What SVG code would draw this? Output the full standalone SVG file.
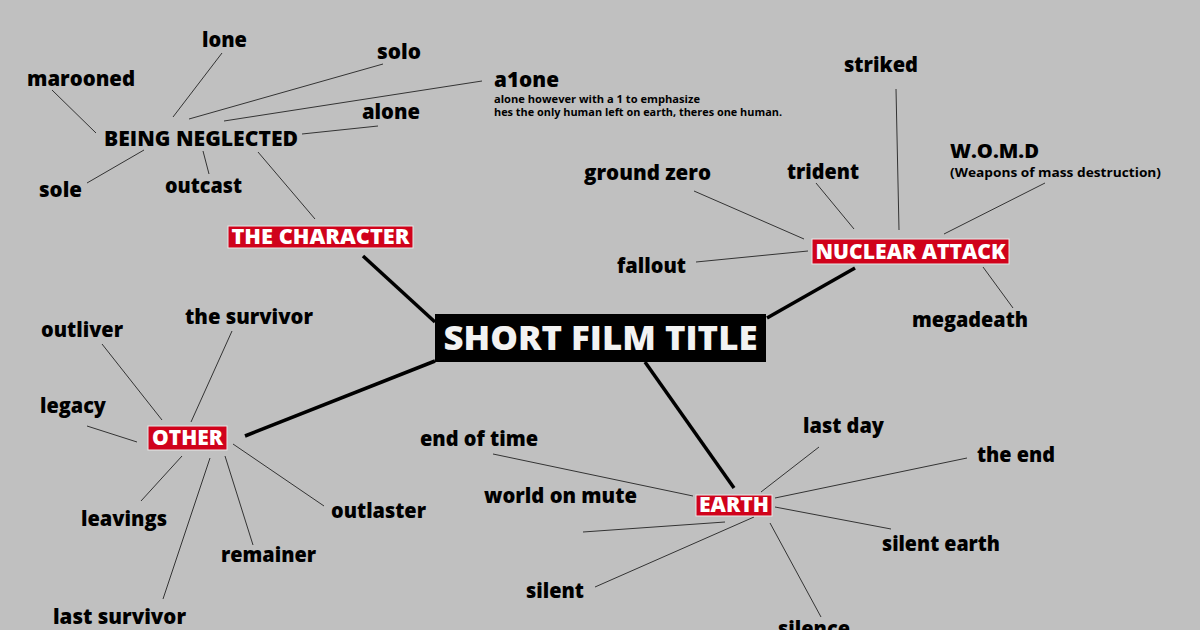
<svg xmlns="http://www.w3.org/2000/svg" width="1200" height="630" viewBox="0 0 1200 630">
<style>
.bg{fill:#c0c0c0}
.lbl{font-family:"Open Sans","Noto Sans","Liberation Sans",sans-serif;font-weight:800;font-size:21px;fill:#000}
.sm{font-family:"Open Sans","Noto Sans","Liberation Sans",sans-serif;font-weight:700;font-size:11px;fill:#000}
.note{font-family:"Open Sans","Noto Sans","Liberation Sans",sans-serif;font-weight:700;font-size:13px;fill:#000}
.hub{fill:#d0021b;stroke:#e8e8e8;stroke-width:1}
.hubt{font-family:"Open Sans","Noto Sans","Liberation Sans",sans-serif;font-weight:800;font-size:21px;fill:#fff}
.thin{stroke:#333;stroke-width:1;fill:none}
.thick{stroke:#000;stroke-width:3.5;fill:none;stroke-linecap:butt}
</style>
<rect class="bg" x="0" y="0" width="1200" height="630"/>
<g id="connectors">
  <line class="thin" x1="52" y1="90" x2="96" y2="133"/>
  <line class="thin" x1="222" y1="53" x2="173" y2="117"/>
  <line class="thin" x1="383" y1="64" x2="189" y2="119"/>
  <line class="thin" x1="482" y1="81" x2="224" y2="121"/>
  <line class="thin" x1="302" y1="134" x2="378" y2="126"/>
  <line class="thin" x1="144" y1="150" x2="87" y2="183"/>
  <line class="thin" x1="203" y1="151" x2="209" y2="174"/>
  <line class="thin" x1="258" y1="152" x2="315" y2="219"/>
  <line class="thick" x1="363" y1="256" x2="435" y2="322"/>
  <line class="thick" x1="855" y1="268" x2="767" y2="318"/>
  <line class="thick" x1="245" y1="436" x2="435" y2="361"/>
  <line class="thick" x1="645" y1="362" x2="734" y2="488"/>
  <line class="thin" x1="896" y1="89" x2="899" y2="230"/>
  <line class="thin" x1="1045" y1="183" x2="944" y2="234"/>
  <line class="thin" x1="694" y1="191" x2="804" y2="239"/>
  <line class="thin" x1="816" y1="183" x2="854" y2="229"/>
  <line class="thin" x1="696" y1="262" x2="808" y2="251"/>
  <line class="thin" x1="983" y1="267" x2="1013" y2="308"/>
  <line class="thin" x1="102" y1="344" x2="162" y2="420"/>
  <line class="thin" x1="232" y1="331" x2="191" y2="422"/>
  <line class="thin" x1="87" y1="426" x2="137" y2="442"/>
  <line class="thin" x1="182" y1="456" x2="141" y2="501"/>
  <line class="thin" x1="210" y1="458" x2="163" y2="599"/>
  <line class="thin" x1="225" y1="456" x2="253" y2="545"/>
  <line class="thin" x1="233" y1="444" x2="324" y2="506"/>
  <line class="thin" x1="493" y1="454" x2="693" y2="496"/>
  <line class="thin" x1="819" y1="447" x2="761" y2="492"/>
  <line class="thin" x1="967" y1="458" x2="775" y2="498"/>
  <line class="thin" x1="583" y1="532" x2="725" y2="522"/>
  <line class="thin" x1="595" y1="587" x2="754" y2="517"/>
  <line class="thin" x1="775" y1="507" x2="891" y2="529"/>
  <line class="thin" x1="770" y1="523" x2="821" y2="617"/>
</g>
<g id="title">
  <rect x="435" y="314" width="331" height="48" fill="#000"/>
  <text x="600.5" y="350" text-anchor="middle" style="font-family:'Open Sans','Noto Sans','Liberation Sans',sans-serif;font-weight:800;font-size:34px;fill:#f2f2f2" textLength="314" lengthAdjust="spacingAndGlyphs">SHORT FILM TITLE</text>
</g>
<g id="hub-character">
  <rect class="hub" x="228" y="226" width="185" height="22"/>
  <text class="hubt" x="320.5" y="244" text-anchor="middle" textLength="178" lengthAdjust="spacingAndGlyphs">THE CHARACTER</text>
</g>
<g id="hub-nuclear">
  <rect class="hub" x="812" y="239" width="197" height="25"/>
  <text class="hubt" x="910.5" y="259" text-anchor="middle" textLength="190" lengthAdjust="spacingAndGlyphs">NUCLEAR ATTACK</text>
</g>
<g id="hub-other">
  <rect class="hub" x="148" y="426" width="79" height="24"/>
  <text class="hubt" x="187.5" y="445" text-anchor="middle" textLength="71" lengthAdjust="spacingAndGlyphs">OTHER</text>
</g>
<g id="hub-earth">
  <rect class="hub" x="696" y="495" width="76" height="21"/>
  <text class="hubt" x="734" y="512" text-anchor="middle" textLength="70" lengthAdjust="spacingAndGlyphs">EARTH</text>
</g>
<g id="being-neglected"><text class="lbl" x="104" y="146" textLength="194" lengthAdjust="spacingAndGlyphs">BEING NEGLECTED</text></g>
<g id="marooned"><text class="lbl" x="27" y="86" textLength="108" lengthAdjust="spacingAndGlyphs">marooned</text></g>
<g id="lone"><text class="lbl" x="202" y="47" textLength="45" lengthAdjust="spacingAndGlyphs">lone</text></g>
<g id="solo"><text class="lbl" x="377" y="59" textLength="44" lengthAdjust="spacingAndGlyphs">solo</text></g>
<g id="a1one">
  <text class="lbl" x="494" y="87" textLength="65" lengthAdjust="spacingAndGlyphs">a1one</text>
  <text class="sm" x="494" y="103" textLength="206" lengthAdjust="spacingAndGlyphs">alone however with a 1 to emphasize</text>
  <text class="sm" x="494" y="116" textLength="288" lengthAdjust="spacingAndGlyphs">hes the only human left on earth, theres one human.</text>
</g>
<g id="alone"><text class="lbl" x="362" y="119" textLength="58" lengthAdjust="spacingAndGlyphs">alone</text></g>
<g id="sole"><text class="lbl" x="39" y="197" textLength="43" lengthAdjust="spacingAndGlyphs">sole</text></g>
<g id="outcast"><text class="lbl" x="165" y="193" textLength="77" lengthAdjust="spacingAndGlyphs">outcast</text></g>
<g id="striked"><text class="lbl" x="844" y="72" textLength="74" lengthAdjust="spacingAndGlyphs">striked</text></g>
<g id="womd">
  <text class="lbl" x="950" y="158" style="font-size:19px" textLength="89" lengthAdjust="spacingAndGlyphs">W.O.M.D</text>
  <text class="note" x="950" y="177" textLength="211" lengthAdjust="spacingAndGlyphs">(Weapons of mass destruction)</text>
</g>
<g id="ground-zero"><text class="lbl" x="584" y="180" textLength="127" lengthAdjust="spacingAndGlyphs">ground zero</text></g>
<g id="trident"><text class="lbl" x="787" y="179" textLength="72" lengthAdjust="spacingAndGlyphs">trident</text></g>
<g id="fallout"><text class="lbl" x="617" y="273" textLength="69" lengthAdjust="spacingAndGlyphs">fallout</text></g>
<g id="megadeath"><text class="lbl" x="912" y="327" textLength="116" lengthAdjust="spacingAndGlyphs">megadeath</text></g>
<g id="outliver"><text class="lbl" x="41" y="337" textLength="82" lengthAdjust="spacingAndGlyphs">outliver</text></g>
<g id="the-survivor"><text class="lbl" x="185" y="324" textLength="128" lengthAdjust="spacingAndGlyphs">the survivor</text></g>
<g id="legacy"><text class="lbl" x="40" y="413" textLength="66" lengthAdjust="spacingAndGlyphs">legacy</text></g>
<g id="leavings"><text class="lbl" x="81" y="526" textLength="86" lengthAdjust="spacingAndGlyphs">leavings</text></g>
<g id="remainer"><text class="lbl" x="221" y="562" textLength="95" lengthAdjust="spacingAndGlyphs">remainer</text></g>
<g id="outlaster"><text class="lbl" x="331" y="518" textLength="95" lengthAdjust="spacingAndGlyphs">outlaster</text></g>
<g id="last-survivor"><text class="lbl" x="53" y="624" textLength="133" lengthAdjust="spacingAndGlyphs">last survivor</text></g>
<g id="end-of-time"><text class="lbl" x="420" y="446" textLength="118" lengthAdjust="spacingAndGlyphs">end of time</text></g>
<g id="world-on-mute"><text class="lbl" x="484" y="503" textLength="153" lengthAdjust="spacingAndGlyphs">world on mute</text></g>
<g id="last-day"><text class="lbl" x="803" y="433" textLength="81" lengthAdjust="spacingAndGlyphs">last day</text></g>
<g id="the-end"><text class="lbl" x="977" y="462" textLength="78" lengthAdjust="spacingAndGlyphs">the end</text></g>
<g id="silent-earth"><text class="lbl" x="882" y="551" textLength="118" lengthAdjust="spacingAndGlyphs">silent earth</text></g>
<g id="silent"><text class="lbl" x="526" y="598" textLength="58" lengthAdjust="spacingAndGlyphs">silent</text></g>
<g id="silence"><text class="lbl" x="778" y="636" textLength="72" lengthAdjust="spacingAndGlyphs">silence</text></g>
</svg>
